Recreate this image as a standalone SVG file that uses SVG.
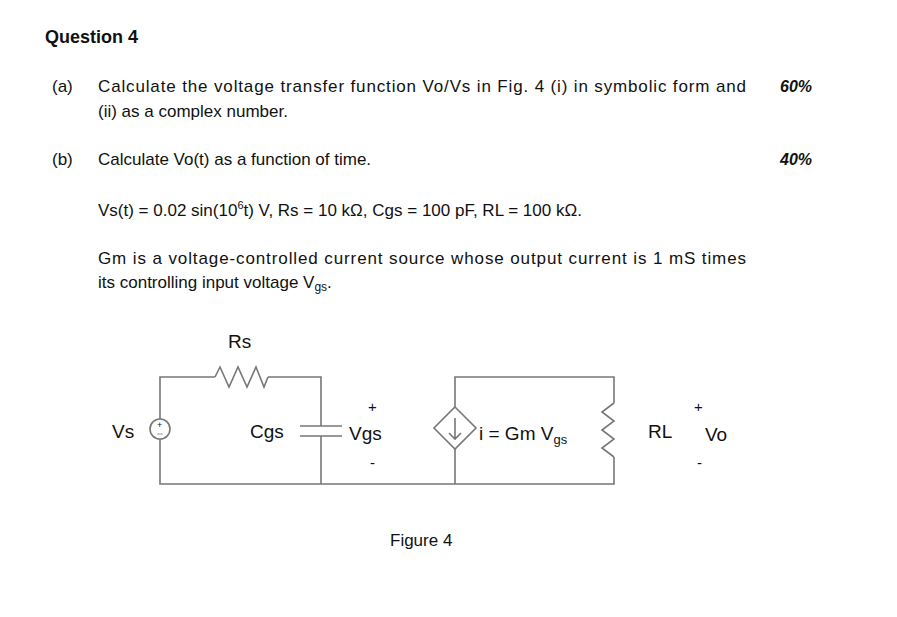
<svg xmlns="http://www.w3.org/2000/svg" width="897" height="617" viewBox="0 0 897 617">
<style>
text{font-family:"Liberation Sans",Arial,sans-serif;font-size:17px;fill:#111}
.b{font-weight:bold}
.p{font-weight:bold;font-style:italic;font-size:16px}
.c{font-size:19px}
.w{fill:none;stroke:#777;stroke-width:1.6}
</style>
<rect width="897" height="617" fill="#fff"/>
<text class="b" x="45" y="43" style="font-size:18px">Question 4</text>
<text x="52" y="92">(a)</text>
<text x="98" y="92" textLength="648">Calculate the voltage transfer function Vo/Vs in Fig. 4 (i) in symbolic form and</text>
<text x="98" y="117">(ii) as a complex number.</text>
<text class="p" x="780" y="92">60%</text>
<text x="52" y="165">(b)</text>
<text x="98" y="165">Calculate Vo(t) as a function of time.</text>
<text class="p" x="780" y="165">40%</text>
<text x="98" y="216">Vs(t) = 0.02 sin(10<tspan font-size="11" dy="-7">6</tspan><tspan dy="7">t) V, Rs = 10 kΩ, Cgs = 100 pF, RL = 100 kΩ.</tspan></text>
<text x="98" y="264" textLength="648">Gm is a voltage-controlled current source whose output current is 1 mS times</text>
<text x="98" y="288">its controlling input voltage V<tspan font-size="12" dy="3">gs</tspan><tspan dy="-3">.</tspan></text>
<g id="wires">
<path class="w" d="M160,419 V377 H215 M268,377 H321 V426 M321,436 V484 M160,439 V484 H614 V457 M614,403 V377 H455 V407 M455,449 V484"/>
</g>
<g id="Vs"><circle class="w" cx="160" cy="429" r="10"/><text x="157" y="428" style="font-size:9px">+</text><line x1="157" y1="434" x2="163" y2="434" stroke="#999"/><text class="c" x="112" y="438">Vs</text></g>
<g id="Rs"><path class="w" d="M215,377 L220,367 L229,387 L238,367 L247,387 L256,367 L264,387 L268,377"/><text class="c" x="228" y="348">Rs</text></g>
<g id="Cgs"><path class="w" d="M300,426 H342 M300,436 H342"/><text class="c" x="250" y="438">Cgs</text></g>
<g id="Vgs"><text x="368" y="412" style="font-size:15px">+</text><text class="c" x="349" y="440">Vgs</text><text x="370" y="468" style="font-size:15px">-</text></g>
<g id="Gm"><path class="w" d="M455,407 L476,428 L455,449 L434,428 Z M455,418 V439 M449,433 L455,439 L461,433"/><text class="c" x="479" y="440">i = Gm V<tspan font-size="13" dy="4">gs</tspan></text></g>
<g id="RL"><path class="w" d="M614,403 L602,412 L614,421 L602,430 L614,439 L602,448 L614,457"/><text class="c" x="648" y="438">RL</text></g>
<g id="Vo"><text x="694" y="412" style="font-size:15px">+</text><text class="c" x="705" y="441">Vo</text><text x="697" y="468" style="font-size:15px">-</text></g>
<text x="390" y="546">Figure 4</text>
</svg>
